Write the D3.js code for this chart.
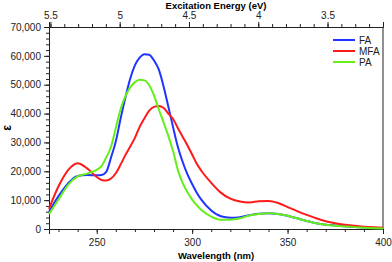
<!DOCTYPE html>
<html>
<head>
<meta charset="utf-8">
<script src="https://cdn.jsdelivr.net/npm/d3@7"></script>
<style>
  body { margin: 0; background: #fff; }
  svg { display: block; font-family: "Liberation Sans", Arial, sans-serif; }
  .axis text { font-size: 10px; fill: #222; }
  .axis path, .axis line { stroke: #222; }
</style>
</head>
<body>
<svg id="chart"></svg>
<script>
const SIZE = { width: 392, height: 262 }
const margin = { top: 27, right: 9, bottom: 33, left: 49 }

// wavelength grid: 5 nm steps, 2.5 nm around the main band
const wavelength = [225, 230, 235, 240, 245,
  250, 252.5, 255, 257.5, 260, 262.5, 265, 267.5, 270, 272.5, 275, 277.5, 280, 282.5, 285, 287.5,
  290, 292.5, 295, 297.5, 300, 302.5, 305,
  310, 315, 320, 325, 330, 335, 340, 345, 350, 355, 360, 365, 370, 375, 380, 385, 390, 395, 400]

const fa = [6000, 11400, 15800, 18400, 18700,
  18600, 18700, 19800, 24800, 30300, 38200, 45500, 52000, 56700, 59400, 60600, 60400, 58400, 55300, 49500, 42500,
  35300, 28500, 23300, 19000, 15600, 12500, 10000,
  6400, 4400, 3900, 4100, 4800, 5300, 5450, 5200, 4600, 3700, 2800, 2000, 1500, 1200, 950, 700, 500, 350, 250]
const mfa = [7000, 14800, 20400, 22800, 21000,
  18000, 17000, 16800, 17500, 19300, 22300, 25600, 28500, 31600, 35400, 38400, 41000, 42300, 42600, 42000, 40000,
  38100, 35000, 32000, 29000, 25800, 22500, 20000,
  16000, 12600, 10500, 9500, 9200, 9600, 9700, 9000, 7600, 6200, 4900, 3700, 2700, 2000, 1500, 1100, 800, 600, 450]
const pa = [5200, 10200, 15300, 18200, 19200,
  20500, 21800, 24800, 28500, 35000, 41500, 46000, 49000, 50900, 51700, 51500, 49800, 46300, 41500, 37000, 32300,
  27000, 20500, 16000, 12800, 10200, 8200, 6500,
  4300, 3200, 3200, 3700, 4700, 5200, 5450, 5200, 4600, 3700, 2800, 2000, 1500, 1150, 900, 650, 450, 300, 200]

const seriesNames = ['FA', 'MFA', 'PA']
const seriesColors = ['#1f35ff', '#ff1a1a', '#66ee1a']
const seriesValues = [fa, mfa, pa]

const xTicks = [250, 300, 350, 400]
const energyTicks = [5.5, 5, 4.5, 4, 3.5]
const yTicks = [0, 10000, 20000, 30000, 40000, 50000, 60000, 70000]

const svg = d3.select('#chart')
  .attr('width', SIZE.width)
  .attr('height', SIZE.height)

const innerW = SIZE.width - margin.left - margin.right
const innerH = SIZE.height - margin.top - margin.bottom

const x = d3.scaleLinear().domain([225, 400]).range([margin.left, margin.left + innerW])
const xe = d3.scaleLinear().domain([1239.84 / 225, 1239.84 / 400]).range([margin.left, margin.left + innerW])
const y = d3.scaleLinear().domain([0, 70000]).range([margin.top + innerH, margin.top])

// minor ticks first, then majors on top
const fmt = d3.format(',')

svg.append('g')
  .attr('class', 'axis')
  .attr('transform', `translate(0,${y(0)})`)
  .call(d3.axisBottom(x).tickValues(d3.range(230, 400, 10)).tickSize(3).tickFormat(''))
  .call(g => g.select('.domain').remove())

svg.append('g')
  .attr('class', 'axis')
  .attr('transform', `translate(0,${y(0)})`)
  .call(d3.axisBottom(x).tickValues(xTicks).tickSize(5).tickPadding(5))

svg.append('g')
  .attr('class', 'axis')
  .attr('transform', `translate(${margin.left},0)`)
  .call(d3.axisLeft(y).tickValues(d3.range(0, 70001, 2000)).tickSize(3).tickFormat(''))
  .call(g => g.select('.domain').remove())

svg.append('g')
  .attr('class', 'axis')
  .attr('transform', `translate(${margin.left},0)`)
  .call(d3.axisLeft(y).tickValues(yTicks).tickSize(5).tickPadding(3).tickFormat(fmt))

svg.append('g')
  .attr('class', 'axis')
  .attr('transform', `translate(0,${margin.top})`)
  .call(d3.axisTop(xe).tickValues(d3.range(3.2, 5.51, 0.1)).tickSize(3).tickFormat(''))
  .call(g => g.select('.domain').remove())

svg.append('g')
  .attr('class', 'axis')
  .attr('transform', `translate(0,${margin.top})`)
  .call(d3.axisTop(xe).tickValues(energyTicks).tickSize(5).tickPadding(3).tickFormat(d3.format('')))

// right border
svg.append('line')
  .attr('x1', x(400)).attr('x2', x(400))
  .attr('y1', y(70000)).attr('y2', y(0))
  .attr('stroke', '#222')

svg.append('text')
  .attr('x', x(312.5)).attr('y', 259)
  .attr('text-anchor', 'middle')
  .attr('font-size', '9.5px').attr('font-weight', 'bold')
  .text('Wavelength (nm)')

svg.append('text')
  .attr('x', x(312.5)).attr('y', 9)
  .attr('text-anchor', 'middle')
  .attr('font-size', '9.5px').attr('font-weight', 'bold')
  .text('Excitation Energy (eV)')

svg.append('text')
  .attr('transform', `translate(11,${y(35000)}) rotate(-90)`)
  .attr('text-anchor', 'middle')
  .attr('font-size', '12px').attr('font-weight', 'bold')
  .text('ε')

const line = d3.line()
  .x((d, i) => x(wavelength[i]))
  .y(d => y(d))
  .curve(d3.curveMonotoneX)

svg.append('g')
  .selectAll('path')
  .data(seriesValues)
  .join('path')
    .attr('d', line)
    .attr('fill', 'none')
    .attr('stroke', (d, i) => seriesColors[i])
    .attr('stroke-width', 2)

const legend = svg.append('g')
  .attr('transform', 'translate(333,40)')

legend.selectAll('line')
  .data(seriesNames)
  .join('line')
    .attr('x1', 0).attr('x2', 22)
    .attr('y1', (d, i) => i * 11).attr('y2', (d, i) => i * 11)
    .attr('stroke', (d, i) => seriesColors[i])
    .attr('stroke-width', 2)

legend.selectAll('text')
  .data(seriesNames)
  .join('text')
    .attr('x', 26)
    .attr('y', (d, i) => i * 11)
    .attr('dy', '0.35em')
    .attr('font-size', '10px')
    .attr('fill', '#222')
    .text(d => d)
</script>
</body>
</html>
